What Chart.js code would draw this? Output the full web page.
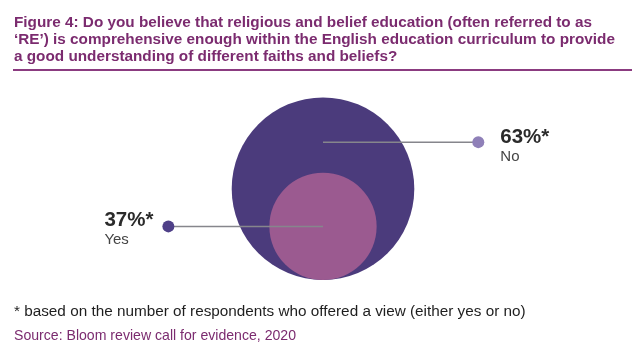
<!DOCTYPE html>
<html><head><meta charset="utf-8">
<script src="https://cdn.jsdelivr.net/npm/chart.js@4"></script>
<style>html,body{margin:0;padding:0;background:#fff}#wrap{width:640px;height:353px;position:relative}</style>
</head><body><div id="wrap"><canvas id="c" width="640" height="353"></canvas></div>
<script>
const categories = ['No', 'Yes'];
const percentValues = [63, 37];
const valueLabels = ['63%*', '37%*'];
const titleLines = [
  'Figure 4: Do you believe that religious and belief education (often referred to as',
  '\u2018RE\u2019) is comprehensive enough within the English education curriculum to provide',
  'a good understanding of different faiths and beliefs?'
];
const footnote = '* based on the number of respondents who offered a view (either yes or no)';
const sourceText = 'Source: Bloom review call for evidence, 2020';

const bubbleColors = ['#4b3b7c', '#9b5a90'];
const dotColors = ['#8f80b8', '#4f4088'];
const FONT = '"Liberation Sans", Arial, Helvetica, sans-serif';

const textPlugin = {
  id: 'texts',
  afterDatasetsDraw(chart) {
    const ctx = chart.ctx;
    const meta = chart.getDatasetMeta(0);
    ctx.save();
    meta.data.forEach((el, i) => {
      const r = el.options.radius;
      if (!isFinite(r) || r <= 0) return;
      let ly, dx;
      if (i === 0) { ly = el.y - r * 0.51; dx = el.x + r + 64; }
      else { ly = el.y; dx = el.x - r - 101; }
      ctx.strokeStyle = '#86868c';
      ctx.lineWidth = 1.5;
      ctx.beginPath();
      ctx.moveTo(el.x, ly); ctx.lineTo(dx, ly); ctx.stroke();
      ctx.fillStyle = dotColors[i];
      ctx.beginPath(); ctx.arc(dx, ly, 6, 0, Math.PI * 2); ctx.fill();
      ctx.textAlign = 'left';
      ctx.textBaseline = 'alphabetic';
      const tx = i === 0 ? dx + 22 : dx - 64;
      const ty = i === 0 ? ly + 1 : ly;
      ctx.fillStyle = '#2b2b2b';
      ctx.font = 'bold 20.5px ' + FONT;
      ctx.fillText(valueLabels[i], tx, ty);
      ctx.font = '15px ' + FONT;
      ctx.fillStyle = '#444';
      ctx.fillText(categories[i], tx, ty + 18);
    });
    ctx.restore();
  },
  afterDraw(chart) {
    const ctx = chart.ctx;
    ctx.save();
    ctx.textAlign = 'left';
    ctx.textBaseline = 'alphabetic';
    ctx.fillStyle = '#7b2b6f';
    ctx.font = 'bold 15.3px ' + FONT;
    titleLines.forEach((t, i) => ctx.fillText(t, 14, 27 + i * 17));
    ctx.strokeStyle = '#8b3b80';
    ctx.lineWidth = 2;
    ctx.beginPath(); ctx.moveTo(13, 70); ctx.lineTo(632, 70); ctx.stroke();
    ctx.fillStyle = '#1e1e1e';
    ctx.font = '15.3px ' + FONT;
    ctx.fillText(footnote, 14, 316);
    ctx.fillStyle = '#7b2b6f';
    ctx.font = '14.1px ' + FONT;
    ctx.fillText(sourceText, 14, 340);
    ctx.restore();
  }
};

const chart = new Chart(document.getElementById('c'), {
  type: 'bubble',
  data: {
    labels: categories,
    datasets: [{
      data: categories.map((c, i) => ({ x: 0, y: percentValues[i], r: 0 })),
      backgroundColor: bubbleColors,
      borderWidth: 0,
      hoverBorderWidth: 0,
      hoverRadius: 0,
      clip: false
    }]
  },
  options: {
    responsive: false,
    animation: false,
    devicePixelRatio: 1,
    events: [],
    layout: { autoPadding: false, padding: { left: 6, right: 0, top: 80, bottom: 73 } },
    scales: {
      x: { type: 'linear', min: -1, max: 1, display: false },
      y: { type: 'linear', min: 0, max: 138, display: false }
    },
    plugins: { legend: { display: false }, tooltip: { enabled: false }, title: { display: false } }
  },
  plugins: [textPlugin]
});
// bubble radius = the value measured on the y scale, so each circle rests on the baseline
const yScale = chart.scales.y;
chart.data.datasets[0].data.forEach((d) => {
  d.r = yScale.getPixelForValue(0) - yScale.getPixelForValue(d.y);
});
chart.update();
</script>
</body></html>
